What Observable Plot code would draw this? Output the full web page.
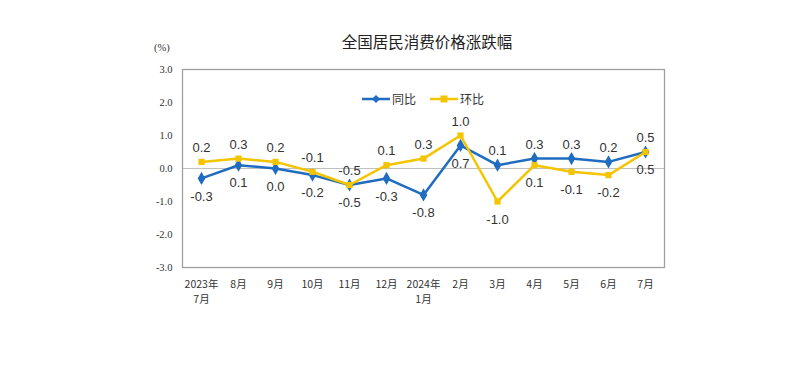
<!DOCTYPE html>
<html>
<head>
<meta charset="utf-8">
<script src="https://cdn.jsdelivr.net/npm/d3@7"></script>
<script src="https://cdn.jsdelivr.net/npm/@observablehq/plot@0.6"></script>
<style>
  html, body { margin: 0; padding: 0; background: #fff; }
  #wrap { position: relative; width: 786px; height: 369px; font-family: "Noto Sans CJK SC", sans-serif; }
  #title { position: absolute; left: 0; width: 854px; top: 31px; text-align: center; font-size: 15.5px; color: #222; line-height: 20px; }
  #unit { position: absolute; left: 154px; top: 42px; font-size: 10.5px; font-family: "Liberation Serif", serif; color: #333; }
  #legend { position: absolute; left: 362px; top: 90px; font-size: 12px; color: #333; display: flex; align-items: center; line-height: 18px; }
  #legend .item { display: flex; align-items: center; margin-right: 14px; }
  #legend svg { margin-right: 2px; }
  #chart { position: absolute; left: 0; top: 0; }
</style>
</head>
<body>
<div id="wrap">
  <div id="chart"></div>
  <div id="title">全国居民消费价格涨跌幅</div>
  <div id="unit">(%)</div>
  <div id="legend"></div>
</div>
<script>
const months = ["2023年\n7月", "8月", "9月", "10月", "11月", "12月", "2024年\n1月", "2月", "3月", "4月", "5月", "6月", "7月"];
const yoy = [-0.3, 0.1, 0.0, -0.2, -0.5, -0.3, -0.8, 0.7, 0.1, 0.3, 0.3, 0.2, 0.5];   // 同比
const mom = [0.2, 0.3, 0.2, -0.1, -0.5, 0.1, 0.3, 1.0, -1.0, 0.1, -0.1, -0.2, 0.5];   // 环比
const yTicks = [-3, -2, -1, 0, 1, 2, 3];
const seriesNames = ["同比", "环比"];
const colors = ["#1f6cc0", "#f5c400"];

const yoyData = months.map((m, i) => ({month: m, value: yoy[i], above: yoy[i] > mom[i]}));
const momData = months.map((m, i) => ({month: m, value: mom[i], above: mom[i] >= yoy[i]}));

const fmt = d => (+d).toFixed(1);
const labelFont = "Liberation Sans, Arial, sans-serif";

const chart = Plot.plot({
  width: 786,
  height: 369,
  marginLeft: 182,
  marginRight: 122,
  marginTop: 69,
  marginBottom: 102,
  style: {background: "transparent", overflow: "visible"},
  x: {type: "point", domain: months, padding: 0.5, label: null},
  y: {domain: [-3, 3], label: null},
  marks: [
    Plot.ruleY([0], {stroke: "#c0c0c0", strokeWidth: 1}),
    Plot.frame({stroke: "#a0a0a0", strokeWidth: 1.3}),
    Plot.axisY(yTicks, {tickSize: 0, tickPadding: 10, tickFormat: fmt, fontSize: 10.5, fontFamily: "Liberation Serif, serif", fill: "#333", label: null}),
    Plot.axisX({tickSize: 0, tickPadding: 10, fontSize: 10.5, fontFamily: "Noto Sans CJK SC, sans-serif", fill: "#333", lineHeight: 1.4, textAnchor: "middle", label: null}),
    Plot.line(yoyData, {x: "month", y: "value", stroke: colors[0], strokeWidth: 2.5}),
    Plot.dot(yoyData, {x: "month", y: "value", symbol: "diamond", r: 4, fill: colors[0], stroke: null}),
    Plot.line(momData, {x: "month", y: "value", stroke: colors[1], strokeWidth: 2.5}),
    Plot.dot(momData, {x: "month", y: "value", symbol: "square", r: 3.5, fill: colors[1], stroke: null}),
    Plot.text(yoyData.filter(d => d.above), {x: "month", y: "value", text: d => fmt(d.value), dy: -14, fontSize: 13, fontFamily: labelFont, fill: "#333"}),
    Plot.text(yoyData.filter(d => !d.above), {x: "month", y: "value", text: d => fmt(d.value), dy: 18, fontSize: 13, fontFamily: labelFont, fill: "#333"}),
    Plot.text(momData.filter(d => d.above), {x: "month", y: "value", text: d => fmt(d.value), dy: -14, fontSize: 13, fontFamily: labelFont, fill: "#333"}),
    Plot.text(momData.filter(d => !d.above), {x: "month", y: "value", text: d => fmt(d.value), dy: 18, fontSize: 13, fontFamily: labelFont, fill: "#333"})
  ]
});
document.getElementById("chart").appendChild(chart);

const legend = document.getElementById("legend");
seriesNames.forEach((name, i) => {
  const item = document.createElement("div");
  item.className = "item";
  const marker = i === 0
    ? `<polygon points="14,2 18,6 14,10 10,6" fill="${colors[i]}"/>`
    : `<rect x="10.5" y="2.5" width="7" height="7" fill="${colors[i]}"/>`;
  item.innerHTML = `<svg width="28" height="12"><line x1="0" y1="6" x2="28" y2="6" stroke="${colors[i]}" stroke-width="2.5"/>${marker}</svg><span>${name}</span>`;
  legend.appendChild(item);
});
</script>
</body>
</html>
